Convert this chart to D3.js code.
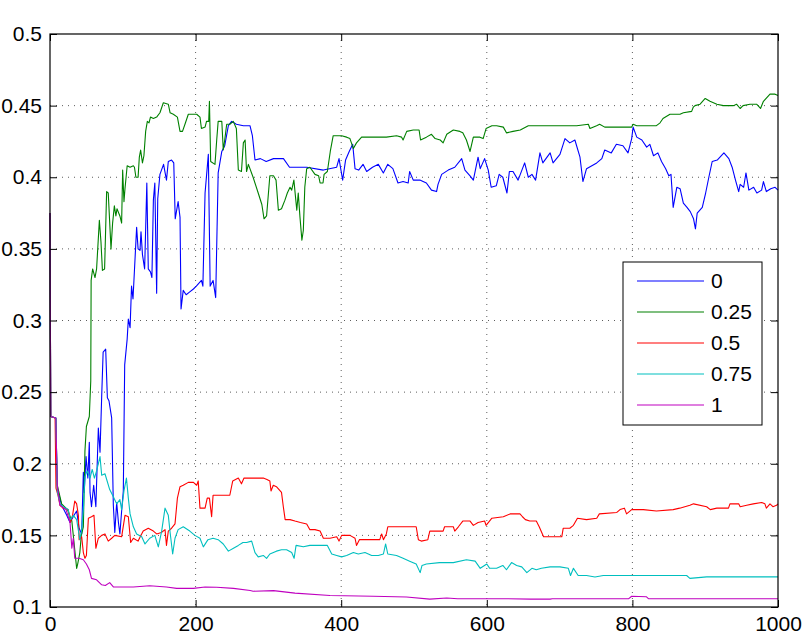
<!DOCTYPE html>
<html>
<head>
<meta charset="utf-8">
<title>Chart</title>
<style>
  body { margin: 0; background: #fff; }
  svg text { font-family: "Liberation Sans", Helvetica, Arial, sans-serif; font-size: 21px; fill: #000; }
</style>
</head>
<body>
<div id="chart"></div>
<script src="https://d3js.org/d3.v7.min.js"></script>
<script>
var xTicks = [0, 200, 400, 600, 800, 1000];
var yTicks = [0.1, 0.15, 0.2, 0.25, 0.3, 0.35, 0.4, 0.45, 0.5];
var yTickLabels = ['0.1', '0.15', '0.2', '0.25', '0.3', '0.35', '0.4', '0.45', '0.5'];
var seriesNames = ['0', '0.25', '0.5', '0.75', '1'];
var seriesColors = ['#0000ff', '#008000', '#ff0000', '#00bfbf', '#bf00bf'];

// [x, y] pairs
var s0 = [[0,0.375],[1,0.233],[8,0.232],[10,0.183],[16,0.171],[23,0.164],[27.5,0.159],[33,0.164],[36.6,0.167],[40,0.155],[43.5,0.151],[45.8,0.194],[47,0.18],[49.5,0.205],[52,0.19],[54,0.215],[55,0.18],[57,0.17],[60,0.185],[63,0.17],[66.4,0.225],[68.7,0.208],[71,0.247],[73,0.278],[76.5,0.280],[78.8,0.246],[81,0.244],[84.7,0.232],[87,0.171],[89,0.152],[91.6,0.173],[94,0.159],[96,0.151],[98.4,0.167],[100.7,0.181],[102.6,0.269],[106,0.287],[107.6,0.301],[110,0.295],[112,0.324],[114,0.315],[117,0.345],[119,0.365],[121,0.35],[123.6,0.349],[125,0.362],[127,0.346],[130,0.336],[133,0.396],[135,0.336],[138,0.334],[140,0.330],[142,0.384],[144,0.396],[146.5,0.319],[148,0.385],[151,0.402],[156,0.409],[160,0.398],[162.5,0.411],[167,0.412],[170,0.41],[172,0.371],[176,0.383],[178.6,0.372],[180,0.308],[183,0.321],[187,0.318],[192,0.320],[197,0.322],[201,0.324],[208,0.328],[210,0.324],[213,0.389],[217.5,0.416],[220,0.324],[224,0.328],[227.6,0.316],[231,0.403],[236,0.418],[240,0.422],[245,0.436],[249.5,0.439],[256,0.437],[265.6,0.436],[274.7,0.436],[278,0.429],[281.6,0.412],[289,0.413],[297,0.411],[307,0.413],[320.7,0.413],[329,0.407],[352.6,0.407],[375.5,0.405],[393.8,0.407],[397,0.413],[402,0.398],[406,0.412],[411,0.418],[415.8,0.423],[419,0.406],[424,0.405],[430,0.409],[435,0.404],[443,0.407],[451,0.409],[457.9,0.403],[464,0.409],[471,0.406],[478,0.396],[485,0.397],[492,0.396],[494,0.404],[499,0.398],[508,0.398],[517,0.396],[524,0.391],[531,0.390],[533,0.395],[538,0.402],[547,0.405],[556,0.407],[565.5,0.413],[570,0.405],[577,0.401],[581.5,0.398],[588,0.414],[591,0.406],[597,0.413],[602,0.405],[606,0.393],[613,0.394],[617,0.402],[622,0.4],[627.7,0.389],[631,0.404],[636,0.404],[643,0.398],[652,0.410],[657,0.400],[662,0.402],[667,0.398],[673,0.417],[677,0.410],[687,0.417],[691,0.410],[700.5,0.416],[707.4,0.427],[714,0.424],[721,0.426],[728,0.414],[732,0.397],[737,0.406],[751,0.410],[758,0.413],[762,0.419],[771,0.417],[778,0.423],[787,0.422],[794,0.417],[799,0.427],[801,0.435],[806,0.428],[813,0.426],[819.6,0.421],[824,0.423],[829,0.415],[835,0.417],[840,0.411],[845.7,0.406],[850,0.401],[853,0.402],[856,0.379],[861,0.393],[865.5,0.392],[870,0.382],[875,0.379],[879.5,0.376],[884,0.371],[886.6,0.364],[889,0.375],[896,0.379],[900.6,0.389],[905,0.400],[909.6,0.411],[916.5,0.412],[925.7,0.417],[932.5,0.413],[937,0.407],[941.6,0.398],[946,0.390],[948,0.395],[952.8,0.393],[956,0.403],[960,0.391],[966.5,0.393],[971,0.389],[977.5,0.391],[980,0.397],[984,0.390],[990,0.392],[996,0.393],[1000,0.391]];

var s025 = [[0,0.375],[1,0.233],[8,0.232],[10,0.185],[16,0.172],[24,0.168],[30,0.16],[34,0.14],[36.6,0.127],[38,0.13],[41,0.138],[43,0.15],[45.8,0.156],[48,0.209],[50,0.226],[54,0.233],[56,0.258],[56.5,0.328],[58.6,0.336],[61.8,0.330],[64,0.336],[67.8,0.370],[70,0.355],[72,0.335],[75,0.336],[77.8,0.390],[80,0.389],[83.8,0.350],[86,0.368],[88.4,0.380],[90.5,0.373],[92,0.378],[96,0.373],[98.4,0.368],[99.8,0.405],[101.6,0.383],[103,0.392],[106,0.408],[110,0.407],[114.5,0.408],[116,0.407],[118,0.400],[121,0.400],[122.7,0.414],[124.5,0.419],[127,0.410],[129,0.415],[131.4,0.432],[133.7,0.439],[136,0.438],[138,0.442],[142,0.441],[146.5,0.442],[151,0.445],[155.7,0.452],[162.5,0.451],[165,0.445],[169.4,0.444],[175,0.442],[178.6,0.432],[182,0.432],[185.4,0.437],[190,0.444],[201.5,0.444],[206,0.442],[208,0.434],[213,0.435],[215,0.439],[218,0.439],[219,0.453],[220.7,0.411],[226.6,0.409],[229,0.426],[231,0.439],[236,0.439],[238,0.419],[240,0.426],[242.7,0.437],[247,0.437],[251.8,0.439],[256,0.434],[258.7,0.405],[263,0.404],[265.6,0.424],[268,0.426],[270,0.404],[272.5,0.409],[279,0.400],[286,0.389],[291,0.381],[294,0.371],[297.5,0.373],[302,0.401],[307,0.401],[310.5,0.398],[313.7,0.377],[318,0.378],[322.7,0.384],[326,0.389],[329.7,0.393],[332,0.391],[335,0.398],[339,0.377],[341,0.389],[343.4,0.372],[346,0.356],[348,0.363],[350,0.393],[352.6,0.406],[357,0.407],[364,0.402],[369,0.401],[371,0.396],[375,0.396],[376.5,0.402],[381,0.404],[385,0.418],[389,0.429],[396,0.429],[400.6,0.429],[407.5,0.428],[412,0.427],[416.7,0.420],[421,0.424],[428,0.428],[444,0.428],[462,0.428],[476,0.429],[483,0.428],[485,0.426],[490,0.432],[499,0.433],[507,0.433],[509,0.426],[517,0.428],[524,0.430],[529,0.427],[536,0.426],[540,0.424],[545,0.430],[554,0.433],[563,0.432],[567,0.431],[572,0.426],[577,0.418],[581.5,0.428],[590.5,0.428],[595,0.427],[599,0.434],[607,0.436],[613.5,0.436],[622.7,0.435],[627,0.431],[636,0.432],[646,0.433],[657,0.436],[677.6,0.436],[700.5,0.436],[723.5,0.436],[739.5,0.437],[741.7,0.434],[750.8,0.436],[755,0.437],[762,0.435],[778,0.435],[799,0.435],[801,0.437],[806,0.436],[833,0.436],[838,0.438],[842,0.441],[851.6,0.444],[865.4,0.444],[870,0.445],[881.4,0.446],[883.7,0.449],[886,0.450],[893,0.451],[900,0.455],[906.6,0.453],[916,0.451],[925,0.450],[939,0.450],[943,0.451],[948,0.448],[952,0.450],[961.5,0.451],[970.6,0.451],[976,0.448],[980,0.453],[989,0.458],[996,0.458],[1000,0.457]];

var s05 = [[0,0.375],[1,0.233],[7,0.232],[8.2,0.183],[11,0.178],[13.7,0.171],[18,0.169],[25,0.168],[28,0.159],[31,0.164],[34,0.174],[36.6,0.172],[39,0.164],[40,0.147],[43.5,0.149],[45.8,0.138],[48,0.134],[50,0.136],[52.7,0.162],[57,0.163],[60.4,0.164],[63,0.141],[66.4,0.148],[71,0.150],[75.5,0.151],[80,0.146],[84.7,0.148],[89,0.150],[98.4,0.149],[103,0.164],[107.6,0.163],[110.8,0.145],[114.5,0.148],[121,0.146],[128,0.153],[135,0.155],[142,0.153],[146.5,0.151],[153,0.152],[158,0.154],[160,0.143],[162.5,0.153],[167,0.155],[171.7,0.158],[175,0.176],[178.6,0.184],[183,0.185],[190,0.187],[197,0.187],[201.5,0.185],[203.6,0.188],[206,0.169],[213,0.169],[216,0.176],[219,0.176],[222,0.163],[224,0.178],[247,0.178],[251,0.188],[258.7,0.190],[263,0.186],[266.5,0.190],[280,0.190],[293,0.190],[298,0.189],[302,0.188],[303.6,0.181],[306.7,0.185],[311,0.184],[318,0.180],[320.5,0.170],[323,0.161],[329.7,0.161],[336.5,0.160],[344,0.159],[352.6,0.158],[357,0.154],[364,0.154],[371,0.153],[375.5,0.148],[384.6,0.148],[393.8,0.149],[397,0.146],[400.6,0.150],[412,0.150],[419,0.148],[421,0.143],[425,0.147],[435,0.147],[453,0.147],[455.6,0.151],[458,0.147],[462,0.151],[464,0.156],[476,0.156],[489.7,0.156],[503,0.156],[506,0.147],[510,0.146],[519,0.147],[521.7,0.153],[540,0.153],[542,0.156],[554,0.156],[556,0.153],[561,0.156],[567,0.160],[577,0.160],[581.5,0.157],[588,0.159],[597,0.160],[599,0.157],[607,0.162],[622.7,0.163],[632,0.165],[645.6,0.165],[649,0.163],[653,0.161],[659,0.160],[668,0.160],[672,0.156],[678,0.149],[691,0.149],[703,0.149],[705,0.155],[714,0.155],[719,0.157],[724.5,0.162],[737,0.161],[751,0.162],[754.6,0.165],[778.6,0.166],[783,0.168],[789,0.169],[792,0.165],[799,0.168],[805.8,0.168],[815,0.168],[833,0.167],[856,0.168],[865,0.169],[879,0.171],[884,0.172],[902,0.170],[907,0.168],[916,0.169],[932,0.169],[934,0.172],[946,0.172],[948,0.170],[957,0.171],[966,0.172],[977.5,0.173],[982,0.172],[984,0.169],[989,0.172],[993,0.170],[998,0.171],[1000,0.172]];

var s075 = [[0,0.375],[1,0.233],[8,0.232],[10,0.181],[13.7,0.172],[18,0.170],[25,0.168],[28,0.161],[32,0.164],[36.6,0.161],[41,0.147],[43.5,0.154],[45.8,0.168],[48,0.191],[51,0.195],[55,0.190],[58,0.196],[61,0.190],[64,0.195],[68.7,0.205],[71,0.192],[75.5,0.193],[82,0.182],[87,0.177],[91.6,0.172],[96,0.175],[98.4,0.168],[101.6,0.181],[105,0.190],[107.6,0.176],[110,0.165],[114.5,0.156],[119,0.151],[126,0.149],[130.5,0.144],[137,0.148],[144,0.150],[148.8,0.142],[153.4,0.153],[158,0.169],[162.5,0.164],[165,0.152],[168.5,0.137],[171.7,0.148],[176,0.154],[183,0.156],[192,0.153],[199,0.150],[206,0.148],[210.6,0.142],[217,0.147],[224,0.148],[231,0.147],[238,0.144],[245,0.139],[252,0.141],[258.7,0.143],[265,0.145],[270,0.145],[277,0.146],[281.6,0.138],[286,0.135],[293,0.136],[297.5,0.134],[302,0.137],[311,0.139],[318,0.140],[325,0.140],[332,0.138],[335.3,0.134],[338,0.143],[348,0.142],[357,0.143],[371,0.143],[381,0.143],[387,0.137],[393.8,0.136],[400.6,0.135],[407.5,0.136],[416.7,0.138],[423.5,0.137],[432.7,0.138],[441.8,0.136],[451,0.136],[458,0.137],[461,0.144],[464,0.137],[476,0.136],[485,0.134],[494,0.132],[503,0.130],[508.5,0.124],[511,0.129],[517,0.130],[535,0.131],[554,0.131],[572,0.133],[584,0.132],[591,0.127],[600,0.130],[604,0.127],[613.5,0.127],[622,0.129],[627,0.126],[634,0.131],[641,0.129],[648,0.128],[655,0.124],[662,0.127],[668,0.126],[675,0.127],[687,0.128],[700.5,0.128],[712,0.127],[715,0.122],[719,0.127],[725.5,0.122],[737,0.122],[748.6,0.121],[760,0.122],[774,0.122],[792,0.122],[810,0.122],[847,0.122],[874.5,0.122],[879,0.120],[902,0.121],[939,0.121],[957,0.121],[975,0.121],[1000,0.121]];

var s1 = [[0,0.375],[1,0.233],[8,0.232],[10,0.185],[13.7,0.171],[22,0.168],[27.5,0.159],[30,0.141],[32,0.148],[34,0.134],[40,0.134],[45.8,0.133],[50,0.130],[54,0.126],[57,0.120],[64,0.119],[71,0.1155],[76,0.115],[82,0.117],[87,0.114],[114.5,0.114],[137,0.1148],[160,0.114],[174,0.113],[197,0.113],[213,0.114],[229,0.1138],[252,0.113],[275,0.1115],[279,0.111],[307,0.1114],[336.5,0.1097],[384.6,0.108],[444,0.1075],[489.7,0.107],[521.7,0.1055],[545,0.1063],[560,0.1058],[627,0.1058],[660,0.1055],[687,0.1055],[690,0.1058],[795,0.1058],[799,0.1075],[819,0.1072],[822,0.1058],[1000,0.1058]];

var allSeries = [s0, s025, s05, s075, s1];

var width = 804, height = 636;
var plotLeft = 50, plotRight = 778, plotTop = 34, plotBottom = 607;

var svg = d3.select('#chart').append('svg')
    .attr('width', width)
    .attr('height', height);

svg.append('rect').attr('width', width).attr('height', height).attr('fill', '#fff');

var x = d3.scaleLinear().domain([0, 1000]).range([plotLeft, plotRight]);
var y = d3.scaleLinear().domain([0.1, 0.5]).range([plotBottom, plotTop]);

// dotted grid
var grid = svg.append('g').attr('stroke', '#333').attr('stroke-width', 0.8).attr('stroke-dasharray', '1,5');
grid.selectAll('.vx').data(xTicks.slice(1, -1)).enter().append('line')
    .attr('x1', function(d) { return x(d); }).attr('x2', function(d) { return x(d); })
    .attr('y1', plotTop).attr('y2', plotBottom);
grid.selectAll('.hy').data(yTicks.slice(1, -1)).enter().append('line')
    .attr('x1', plotLeft).attr('x2', plotRight)
    .attr('y1', function(d) { return y(d); }).attr('y2', function(d) { return y(d); });

// series lines
var line = d3.line()
    .x(function(d) { return x(d[0]); })
    .y(function(d) { return y(d[1]); });

svg.append('g').selectAll('path').data(allSeries).enter().append('path')
    .attr('d', line)
    .attr('fill', 'none')
    .attr('stroke', function(d, i) { return seriesColors[i]; })
    .attr('stroke-width', 1.1)
    .attr('stroke-linejoin', 'round');

// axes, ticks pointing inward on all four sides
var xAxis = d3.axisBottom(x).tickValues(xTicks).tickSizeInner(-7).tickSizeOuter(0).tickPadding(9).tickFormat(d3.format('d'));
var yAxis = d3.axisLeft(y).tickValues(yTicks).tickSizeInner(-7).tickSizeOuter(0).tickPadding(8)
    .tickFormat(function(d, i) { return yTickLabels[i]; });

var gx = svg.append('g').attr('transform', 'translate(0,' + plotBottom + ')').call(xAxis);
var gy = svg.append('g').attr('transform', 'translate(' + plotLeft + ',0)').call(yAxis);
var gxt = svg.append('g').attr('transform', 'translate(0,' + plotTop + ')')
    .call(d3.axisTop(x).tickValues(xTicks).tickSizeInner(-7).tickSizeOuter(0).tickFormat(''));
var gyr = svg.append('g').attr('transform', 'translate(' + plotRight + ',0)')
    .call(d3.axisRight(y).tickValues(yTicks).tickSizeInner(-7).tickSizeOuter(0).tickFormat(''));

[gx, gy, gxt, gyr].forEach(function(g) {
  g.select('.domain').remove();
  g.selectAll('line').attr('stroke', '#000');
  g.selectAll('text').attr('fill', '#000');
  g.attr('font-size', null).attr('font-family', null);
});

svg.append('rect')
    .attr('x', plotLeft).attr('y', plotTop)
    .attr('width', plotRight - plotLeft).attr('height', plotBottom - plotTop)
    .attr('fill', 'none').attr('stroke', '#000').attr('stroke-width', 1.2);

// legend
var legend = svg.append('g');
legend.append('rect')
    .attr('x', 623).attr('y', 262).attr('width', 139).attr('height', 163)
    .attr('fill', '#fff').attr('stroke', '#000').attr('stroke-width', 1);
var items = legend.selectAll('.item').data(seriesNames).enter().append('g')
    .attr('transform', function(d, i) { return 'translate(0,' + (281 + i * 31) + ')'; });
items.append('line')
    .attr('x1', 637).attr('x2', 704)
    .attr('stroke', function(d, i) { return seriesColors[i]; })
    .attr('stroke-width', 1.1);
items.append('text')
    .attr('x', 711).attr('dy', '0.35em')
    .text(function(d) { return d; });
</script>
</body>
</html>
